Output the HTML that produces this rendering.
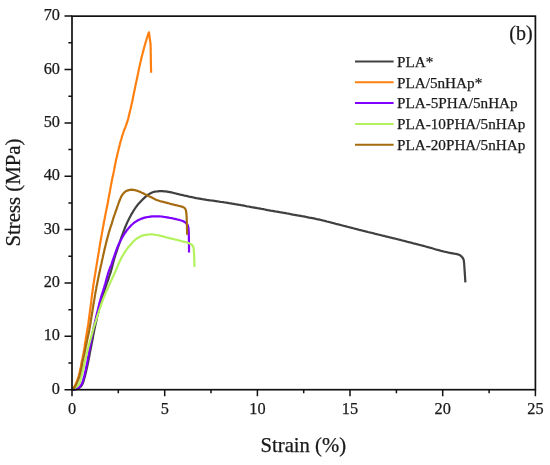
<!DOCTYPE html>
<html lang="en"><head><meta charset="utf-8"><title>Stress-strain curves</title>
<style>html,body{margin:0;padding:0;background:#fff}body{width:550px;height:465px;overflow:hidden}svg{display:block}text{font-family:"Liberation Serif", serif;fill:#1a1a1a;stroke:#1a1a1a;stroke-width:0.25px}</style></head><body>
<svg width="550" height="465" viewBox="0 0 550 465">
<rect width="550" height="465" fill="#fff"/>
<path d="M72.0,389.7 L73.5,389.6 L75.0,389.5 L76.5,389.2 L77.9,388.6 L79.2,387.9 L80.4,386.9 L81.4,385.8 L82.2,384.5 L82.8,383.1 L83.4,381.7 L83.8,380.3 L84.2,378.8 L84.6,377.4 L85.0,375.9 L85.4,374.5 L85.7,373.0 L86.1,371.5 L86.4,370.0 L86.7,368.6 L87.1,367.1 L87.4,365.6 L87.7,364.2 L88.0,362.7 L88.3,361.2 L88.6,359.7 L88.9,358.2 L89.2,356.8 L89.5,355.3 L89.7,353.8 L90.0,352.3 L90.3,350.8 L90.6,349.4 L90.9,347.9 L91.2,346.4 L91.5,344.9 L91.7,343.4 L92.0,342.0 L92.3,340.5 L92.6,339.0 L92.9,337.5 L93.1,336.0 L93.4,334.6 L93.7,333.1 L94.0,331.6 L94.3,330.1 L94.6,328.6 L94.9,327.2 L95.2,325.7 L95.5,324.2 L95.8,322.7 L96.2,321.3 L96.5,319.8 L96.8,318.3 L97.2,316.8 L97.5,315.4 L97.9,313.9 L98.2,312.5 L98.6,311.0 L98.9,309.5 L99.3,308.1 L99.7,306.6 L100.1,305.1 L100.5,303.7 L100.9,302.2 L101.3,300.8 L101.7,299.3 L102.1,297.9 L102.6,296.4 L103.0,295.0 L103.5,293.6 L103.9,292.1 L104.4,290.7 L104.9,289.3 L105.4,287.8 L105.8,286.4 L106.3,285.0 L106.8,283.5 L107.3,282.1 L107.8,280.7 L108.3,279.3 L108.8,277.8 L109.2,276.4 L109.7,275.0 L110.2,273.6 L110.7,272.1 L111.1,270.7 L111.5,269.2 L111.9,267.8 L112.3,266.3 L112.6,264.9 L113.0,263.4 L113.4,261.9 L113.8,260.5 L114.2,259.0 L114.6,257.6 L115.1,256.1 L115.5,254.7 L116.0,253.3 L116.5,251.8 L117.0,250.4 L117.4,249.0 L117.9,247.6 L118.4,246.1 L118.9,244.7 L119.4,243.3 L119.9,241.9 L120.4,240.4 L120.8,239.0 L121.3,237.6 L121.8,236.1 L122.4,234.7 L122.9,233.3 L123.4,231.9 L124.0,230.5 L124.5,229.1 L125.0,227.7 L125.6,226.3 L126.2,224.9 L126.8,223.5 L127.4,222.1 L128.1,220.8 L128.7,219.4 L129.4,218.1 L130.1,216.7 L130.8,215.4 L131.5,214.1 L132.3,212.8 L133.1,211.5 L133.9,210.2 L134.7,209.0 L135.6,207.7 L136.4,206.5 L137.3,205.3 L138.3,204.1 L139.3,203.0 L140.3,201.9 L141.4,200.8 L142.4,199.7 L143.5,198.6 L144.6,197.6 L145.7,196.6 L146.9,195.6 L148.1,194.7 L149.4,193.9 L150.7,193.2 L152.1,192.5 L153.5,192.0 L154.9,191.7 L156.4,191.5 L157.9,191.3 L159.4,191.1 L160.9,191.1 L162.5,191.2 L164.0,191.3 L165.5,191.4 L167.0,191.6 L168.4,191.8 L169.9,192.1 L171.4,192.4 L172.9,192.8 L174.3,193.2 L175.8,193.5 L177.3,193.9 L178.7,194.2 L180.2,194.6 L181.7,194.9 L183.1,195.2 L184.6,195.6 L186.1,195.9 L187.6,196.2 L189.0,196.6 L190.5,196.9 L192.0,197.2 L193.5,197.5 L194.9,197.8 L196.4,198.1 L197.9,198.3 L199.4,198.6 L200.9,198.9 L202.3,199.2 L203.8,199.4 L205.3,199.6 L206.8,199.9 L208.3,200.1 L209.8,200.3 L211.3,200.5 L212.8,200.7 L214.3,200.9 L215.8,201.1 L217.3,201.3 L218.8,201.5 L220.2,201.8 L221.7,202.0 L223.2,202.2 L224.7,202.5 L226.2,202.7 L227.7,202.9 L229.2,203.2 L230.7,203.4 L232.2,203.7 L233.6,203.9 L235.1,204.2 L236.6,204.4 L238.1,204.7 L239.6,204.9 L241.1,205.2 L242.6,205.4 L244.0,205.7 L245.5,206.0 L247.0,206.3 L248.5,206.5 L250.0,206.8 L251.5,207.1 L252.9,207.3 L254.4,207.6 L255.9,207.9 L257.4,208.2 L258.9,208.4 L260.4,208.7 L261.8,209.0 L263.3,209.2 L264.8,209.5 L266.3,209.8 L267.8,210.1 L269.3,210.3 L270.7,210.6 L272.2,210.8 L273.7,211.1 L275.2,211.4 L276.7,211.6 L278.2,211.9 L279.7,212.2 L281.1,212.4 L282.6,212.7 L284.1,212.9 L285.6,213.2 L287.1,213.5 L288.6,213.7 L290.0,214.0 L291.5,214.3 L293.0,214.6 L294.5,214.8 L296.0,215.1 L297.5,215.4 L298.9,215.6 L300.4,215.9 L301.9,216.2 L303.4,216.4 L304.9,216.7 L306.4,217.0 L307.8,217.3 L309.3,217.6 L310.8,217.8 L312.3,218.1 L313.8,218.4 L315.2,218.7 L316.7,219.1 L318.2,219.4 L319.7,219.7 L321.1,220.0 L322.6,220.4 L324.1,220.7 L325.5,221.1 L327.0,221.5 L328.4,221.8 L329.9,222.2 L331.4,222.6 L332.8,223.0 L334.3,223.4 L335.7,223.8 L337.2,224.1 L338.7,224.5 L340.1,224.9 L341.6,225.3 L343.0,225.7 L344.5,226.0 L346.0,226.4 L347.4,226.8 L348.9,227.2 L350.3,227.5 L351.8,227.9 L353.3,228.3 L354.7,228.7 L356.2,229.0 L357.6,229.4 L359.1,229.8 L360.6,230.1 L362.0,230.5 L363.5,230.9 L365.0,231.2 L366.4,231.6 L367.9,232.0 L369.3,232.3 L370.8,232.7 L372.3,233.0 L373.7,233.4 L375.2,233.8 L376.7,234.1 L378.1,234.5 L379.6,234.8 L381.1,235.2 L382.5,235.6 L384.0,235.9 L385.4,236.3 L386.9,236.6 L388.4,237.0 L389.8,237.4 L391.3,237.7 L392.8,238.1 L394.2,238.4 L395.7,238.8 L397.2,239.2 L398.6,239.5 L400.1,239.9 L401.5,240.3 L403.0,240.7 L404.5,241.0 L405.9,241.4 L407.4,241.8 L408.8,242.1 L410.3,242.5 L411.8,242.9 L413.2,243.3 L414.7,243.6 L416.2,244.0 L417.6,244.4 L419.1,244.8 L420.5,245.2 L422.0,245.5 L423.4,245.9 L424.9,246.3 L426.4,246.7 L427.8,247.1 L429.3,247.5 L430.7,247.9 L432.2,248.3 L433.6,248.7 L435.1,249.2 L436.5,249.6 L438.0,250.0 L439.4,250.4 L440.9,250.8 L442.3,251.1 L443.8,251.5 L445.3,251.8 L446.7,252.2 L448.2,252.5 L449.7,252.8 L451.2,253.1 L452.7,253.4 L454.2,253.7 L455.7,253.9 L457.2,254.2 L458.6,254.6 L459.9,255.2 L461.1,256.1 L462.2,257.2 L463.1,258.5 L463.7,259.9 L463.9,261.3 L464.1,262.8 L464.2,264.3 L464.3,265.8 L464.4,267.4 L464.5,268.9 L464.6,270.4 L464.7,271.9 L464.8,273.4 L464.9,274.9 L465.0,276.4 L465.1,277.9 L465.2,279.4 L465.3,280.9 L465.4,282.4" fill="none" stroke="#404040" stroke-width="2.2" stroke-linejoin="round" stroke-linecap="butt"/>
<path d="M72.0,389.7 L73.0,388.6 L73.9,387.4 L74.7,386.1 L75.4,384.7 L76.0,383.4 L76.6,382.0 L77.2,380.6 L77.7,379.2 L78.2,377.7 L78.6,376.3 L79.0,374.8 L79.4,373.4 L79.7,371.9 L80.0,370.4 L80.4,368.9 L80.7,367.5 L81.0,366.0 L81.2,364.5 L81.5,363.0 L81.8,361.5 L82.1,360.1 L82.4,358.6 L82.7,357.1 L83.0,355.6 L83.3,354.1 L83.6,352.7 L83.8,351.2 L84.1,349.7 L84.3,348.2 L84.6,346.7 L84.8,345.2 L85.0,343.7 L85.2,342.2 L85.5,340.7 L85.7,339.3 L86.0,337.8 L86.2,336.3 L86.5,334.8 L86.8,333.3 L87.0,331.8 L87.2,330.3 L87.5,328.8 L87.7,327.4 L87.9,325.9 L88.2,324.4 L88.4,322.9 L88.6,321.4 L88.8,319.9 L89.0,318.4 L89.2,316.9 L89.4,315.4 L89.6,313.9 L89.8,312.4 L90.0,310.9 L90.2,309.4 L90.4,307.9 L90.6,306.4 L90.8,304.9 L91.0,303.4 L91.2,301.9 L91.3,300.4 L91.5,298.9 L91.7,297.4 L91.9,295.9 L92.1,294.4 L92.3,293.0 L92.5,291.5 L92.7,290.0 L92.9,288.5 L93.1,287.0 L93.3,285.5 L93.5,284.0 L93.8,282.5 L94.0,281.0 L94.2,279.5 L94.5,278.0 L94.7,276.5 L95.0,275.0 L95.2,273.6 L95.5,272.1 L95.7,270.6 L95.9,269.1 L96.2,267.6 L96.4,266.1 L96.7,264.6 L96.9,263.1 L97.2,261.6 L97.4,260.1 L97.6,258.7 L97.9,257.2 L98.1,255.7 L98.4,254.2 L98.6,252.7 L98.9,251.2 L99.1,249.7 L99.4,248.2 L99.6,246.8 L99.9,245.3 L100.1,243.8 L100.4,242.3 L100.6,240.8 L100.9,239.3 L101.1,237.8 L101.4,236.3 L101.7,234.9 L101.9,233.4 L102.2,231.9 L102.5,230.4 L102.7,228.9 L103.0,227.4 L103.3,225.9 L103.5,224.5 L103.8,223.0 L104.1,221.5 L104.4,220.0 L104.7,218.5 L104.9,217.1 L105.2,215.6 L105.5,214.1 L105.8,212.6 L106.1,211.1 L106.4,209.6 L106.7,208.2 L107.0,206.7 L107.3,205.2 L107.6,203.7 L107.9,202.2 L108.2,200.8 L108.4,199.3 L108.7,197.8 L109.0,196.3 L109.3,194.8 L109.5,193.3 L109.8,191.9 L110.1,190.4 L110.3,188.9 L110.6,187.4 L110.9,185.9 L111.1,184.4 L111.4,183.0 L111.7,181.5 L112.0,180.0 L112.3,178.5 L112.6,177.0 L113.0,175.6 L113.3,174.1 L113.6,172.6 L113.9,171.1 L114.2,169.7 L114.4,168.2 L114.7,166.7 L115.0,165.2 L115.3,163.7 L115.6,162.3 L115.9,160.8 L116.2,159.3 L116.6,157.8 L116.9,156.4 L117.3,154.9 L117.6,153.4 L118.0,152.0 L118.3,150.5 L118.7,149.0 L119.0,147.6 L119.4,146.1 L119.8,144.6 L120.1,143.2 L120.5,141.7 L120.9,140.3 L121.4,138.8 L121.8,137.4 L122.2,135.9 L122.7,134.5 L123.2,133.0 L123.6,131.6 L124.1,130.2 L124.7,128.8 L125.3,127.4 L125.8,126.0 L126.3,124.6 L126.8,123.1 L127.3,121.7 L127.7,120.3 L128.2,118.8 L128.5,117.4 L128.9,115.9 L129.2,114.4 L129.6,112.9 L129.9,111.5 L130.3,110.0 L130.6,108.5 L131.0,107.1 L131.3,105.6 L131.6,104.1 L132.0,102.7 L132.3,101.2 L132.6,99.7 L132.9,98.2 L133.2,96.8 L133.5,95.3 L133.8,93.8 L134.1,92.3 L134.4,90.8 L134.7,89.4 L135.0,87.9 L135.3,86.4 L135.6,84.9 L135.9,83.5 L136.2,82.0 L136.6,80.5 L136.9,79.0 L137.2,77.5 L137.5,76.1 L137.8,74.6 L138.1,73.1 L138.4,71.6 L138.7,70.2 L139.0,68.7 L139.3,67.2 L139.7,65.7 L140.0,64.3 L140.3,62.8 L140.7,61.3 L141.0,59.9 L141.4,58.4 L141.7,56.9 L142.1,55.5 L142.5,54.0 L142.8,52.5 L143.2,51.1 L143.6,49.6 L144.0,48.2 L144.4,46.7 L144.8,45.2 L145.2,43.8 L145.6,42.3 L146.1,40.9 L146.5,39.5 L147.0,38.0 L147.4,36.6 L147.9,35.2 L148.4,33.7 L148.9,32.3  L149.2,33.8 L149.4,35.4 L149.6,36.9 L149.8,38.5 L150.0,40.0 L150.2,41.6 L150.4,43.1 L150.6,44.7 L150.6,46.2 L150.7,47.8 L150.7,49.4 L150.7,50.9 L150.7,52.5 L150.8,54.1 L150.8,55.6 L150.8,57.2 L150.8,58.7 L150.9,60.3 L150.9,61.9 L150.9,63.4 L150.9,65.0 L151.0,66.6 L151.0,68.1 L151.0,69.7 L151.1,71.2 L151.1,72.8" fill="none" stroke="#ff8010" stroke-width="2.2" stroke-linejoin="round" stroke-linecap="butt"/>
<path d="M72.0,389.7 L73.5,389.6 L75.0,389.4 L76.5,388.9 L77.8,388.3 L79.1,387.4 L80.2,386.4 L81.1,385.2 L81.8,383.8 L82.4,382.5 L82.9,381.0 L83.3,379.6 L83.7,378.1 L84.1,376.6 L84.5,375.2 L84.8,373.7 L85.1,372.2 L85.5,370.7 L85.8,369.3 L86.1,367.8 L86.4,366.3 L86.7,364.8 L87.0,363.3 L87.3,361.9 L87.5,360.4 L87.8,358.9 L88.1,357.4 L88.4,355.9 L88.7,354.4 L88.9,352.9 L89.2,351.4 L89.5,350.0 L89.8,348.5 L90.0,347.0 L90.3,345.5 L90.6,344.0 L90.8,342.5 L91.1,341.0 L91.4,339.5 L91.6,338.1 L91.9,336.6 L92.2,335.1 L92.4,333.6 L92.7,332.1 L93.0,330.6 L93.3,329.1 L93.6,327.6 L93.9,326.2 L94.3,324.7 L94.6,323.2 L95.0,321.8 L95.3,320.3 L95.7,318.8 L96.0,317.3 L96.4,315.9 L96.7,314.4 L97.1,312.9 L97.4,311.5 L97.8,310.0 L98.1,308.5 L98.5,307.0 L98.9,305.6 L99.2,304.1 L99.6,302.6 L100.0,301.2 L100.4,299.7 L100.8,298.3 L101.2,296.8 L101.6,295.4 L102.1,293.9 L102.5,292.5 L103.0,291.0 L103.4,289.6 L103.9,288.1 L104.3,286.7 L104.7,285.2 L105.2,283.8 L105.6,282.3 L106.0,280.9 L106.4,279.4 L106.8,277.9 L107.2,276.5 L107.6,275.0 L108.0,273.6 L108.5,272.1 L109.0,270.7 L109.5,269.3 L110.0,267.9 L110.6,266.5 L111.2,265.1 L111.7,263.7 L112.2,262.2 L112.6,260.8 L113.1,259.4 L113.6,257.9 L114.1,256.5 L114.6,255.1 L115.1,253.6 L115.6,252.2 L116.1,250.8 L116.6,249.4 L117.2,248.0 L117.7,246.6 L118.3,245.2 L119.0,243.8 L119.6,242.4 L120.3,241.1 L121.0,239.7 L121.7,238.4 L122.5,237.1 L123.2,235.8 L124.0,234.5 L124.8,233.2 L125.7,232.0 L126.6,230.7 L127.5,229.5 L128.4,228.4 L129.4,227.2 L130.5,226.1 L131.5,225.0 L132.7,224.0 L133.8,223.0 L135.0,222.2 L136.3,221.3 L137.6,220.5 L139.0,219.8 L140.3,219.2 L141.7,218.6 L143.1,218.1 L144.6,217.6 L146.1,217.3 L147.6,217.0 L149.0,216.8 L150.5,216.6 L152.1,216.4 L153.6,216.3 L155.1,216.3 L156.6,216.3 L158.1,216.3 L159.6,216.4 L161.1,216.5 L162.6,216.7 L164.1,217.0 L165.6,217.2 L167.1,217.4 L168.6,217.7 L170.1,218.0 L171.6,218.2 L173.1,218.5 L174.6,218.8 L176.0,219.1 L177.5,219.5 L179.0,219.8 L180.5,220.3 L181.9,220.7 L183.3,221.3 L184.6,222.0 L185.9,222.9 L186.9,223.9 L187.7,225.2 L188.2,226.7 L188.5,228.2 L188.6,229.7 L188.7,231.2 L188.8,232.7 L188.8,234.3 L188.8,235.8 L188.9,237.3 L188.9,238.8 L188.9,240.3 L188.9,241.8 L188.9,243.3 L189.0,244.8 L189.0,246.3 L189.0,247.9 L189.0,249.4 L189.0,250.9 L189.0,252.4" fill="none" stroke="#7f00ff" stroke-width="2.2" stroke-linejoin="round" stroke-linecap="butt"/>
<path d="M72.0,389.7 L73.4,389.0 L74.6,388.2 L75.9,387.3 L77.0,386.4 L78.1,385.2 L79.0,384.0 L79.7,382.7 L80.2,381.3 L80.6,379.8 L80.9,378.3 L81.3,376.8 L81.7,375.4 L82.1,373.9 L82.4,372.4 L82.8,370.9 L83.1,369.5 L83.5,368.0 L83.8,366.5 L84.1,365.0 L84.5,363.5 L84.8,362.1 L85.1,360.6 L85.4,359.1 L85.8,357.6 L86.1,356.1 L86.5,354.7 L86.8,353.2 L87.2,351.7 L87.5,350.2 L87.9,348.8 L88.3,347.3 L88.7,345.8 L89.1,344.4 L89.5,342.9 L89.9,341.4 L90.3,340.0 L90.7,338.5 L91.1,337.0 L91.5,335.6 L91.9,334.1 L92.3,332.6 L92.7,331.2 L93.1,329.7 L93.5,328.3 L93.9,326.8 L94.4,325.4 L94.8,323.9 L95.3,322.5 L95.8,321.0 L96.2,319.6 L96.7,318.1 L97.2,316.7 L97.6,315.2 L98.1,313.8 L98.6,312.4 L99.0,310.9 L99.5,309.5 L100.0,308.0 L100.5,306.6 L100.9,305.1 L101.4,303.7 L102.0,302.3 L102.5,300.9 L103.0,299.4 L103.6,298.0 L104.1,296.6 L104.7,295.2 L105.3,293.8 L105.9,292.4 L106.5,291.0 L107.1,289.7 L107.8,288.3 L108.4,286.9 L109.0,285.5 L109.6,284.1 L110.2,282.7 L110.8,281.3 L111.5,280.0 L112.1,278.6 L112.7,277.2 L113.4,275.8 L114.0,274.4 L114.6,273.1 L115.3,271.7 L115.9,270.3 L116.5,268.9 L117.1,267.5 L117.6,266.1 L118.2,264.7 L118.8,263.3 L119.4,261.9 L120.1,260.5 L120.7,259.2 L121.4,257.8 L122.2,256.5 L123.0,255.2 L123.7,253.9 L124.5,252.6 L125.3,251.3 L126.2,250.1 L127.1,248.8 L128.0,247.6 L129.0,246.5 L130.0,245.3 L131.0,244.2 L132.0,243.0 L133.0,241.9 L134.1,240.8 L135.2,239.8 L136.4,238.9 L137.7,238.0 L139.0,237.2 L140.3,236.5 L141.7,235.9 L143.1,235.4 L144.6,235.0 L146.1,234.8 L147.6,234.6 L149.1,234.5 L150.7,234.4 L152.2,234.4 L153.7,234.5 L155.2,234.8 L156.7,235.0 L158.2,235.2 L159.7,235.6 L161.1,235.9 L162.6,236.3 L164.1,236.7 L165.6,237.1 L167.0,237.5 L168.5,237.8 L170.0,238.2 L171.4,238.6 L172.9,238.9 L174.4,239.3 L175.9,239.7 L177.3,240.0 L178.8,240.4 L180.3,240.8 L181.7,241.2 L183.2,241.6 L184.7,241.9 L186.2,242.3 L187.6,242.8 L189.0,243.3 L190.5,243.9 L191.8,244.7 L192.7,245.8 L193.4,247.2 L193.7,248.7 L193.8,250.2 L193.9,251.7 L194.0,253.2 L194.1,254.8 L194.1,256.3 L194.2,257.8 L194.3,259.3 L194.3,260.8 L194.3,262.3 L194.4,263.9 L194.4,265.4 L194.4,266.9" fill="none" stroke="#b3f25c" stroke-width="2.2" stroke-linejoin="round" stroke-linecap="butt"/>
<path d="M72.0,389.7 L73.2,388.7 L74.2,387.6 L75.0,386.3 L75.8,385.0 L76.4,383.7 L77.1,382.3 L77.7,380.9 L78.3,379.5 L78.8,378.1 L79.3,376.6 L79.7,375.2 L80.0,373.7 L80.4,372.2 L80.7,370.8 L81.0,369.3 L81.4,367.8 L81.7,366.3 L82.0,364.8 L82.2,363.3 L82.5,361.9 L82.8,360.4 L83.2,358.9 L83.5,357.4 L83.8,355.9 L84.2,354.5 L84.5,353.0 L84.8,351.5 L85.1,350.0 L85.4,348.5 L85.7,347.1 L86.0,345.6 L86.4,344.1 L86.7,342.6 L87.0,341.1 L87.3,339.6 L87.6,338.2 L87.9,336.7 L88.2,335.2 L88.6,333.7 L88.9,332.2 L89.2,330.7 L89.4,329.3 L89.7,327.8 L90.0,326.3 L90.2,324.8 L90.5,323.3 L90.7,321.8 L90.9,320.3 L91.2,318.8 L91.4,317.3 L91.7,315.8 L91.9,314.3 L92.2,312.8 L92.4,311.3 L92.6,309.8 L92.9,308.3 L93.1,306.8 L93.3,305.3 L93.6,303.8 L93.8,302.3 L94.1,300.9 L94.3,299.4 L94.6,297.9 L94.8,296.4 L95.1,294.9 L95.3,293.4 L95.6,291.9 L95.9,290.4 L96.2,288.9 L96.4,287.4 L96.7,285.9 L97.0,284.5 L97.3,283.0 L97.6,281.5 L97.9,280.0 L98.2,278.5 L98.5,277.0 L98.8,275.6 L99.1,274.1 L99.4,272.6 L99.8,271.1 L100.1,269.6 L100.4,268.1 L100.7,266.7 L101.0,265.2 L101.4,263.7 L101.7,262.2 L102.0,260.7 L102.3,259.3 L102.7,257.8 L103.0,256.3 L103.3,254.8 L103.7,253.4 L104.0,251.9 L104.3,250.4 L104.7,248.9 L105.0,247.4 L105.4,246.0 L105.7,244.5 L106.1,243.0 L106.5,241.6 L106.8,240.1 L107.2,238.6 L107.6,237.2 L108.0,235.7 L108.4,234.2 L108.8,232.8 L109.2,231.3 L109.7,229.9 L110.1,228.4 L110.6,227.0 L111.1,225.6 L111.6,224.1 L112.0,222.7 L112.4,221.2 L112.9,219.8 L113.3,218.3 L113.8,216.9 L114.3,215.5 L114.8,214.0 L115.3,212.6 L115.8,211.2 L116.3,209.8 L116.8,208.3 L117.3,206.9 L117.8,205.5 L118.3,204.0 L118.8,202.6 L119.3,201.2 L119.9,199.8 L120.5,198.4 L121.1,197.0 L121.8,195.6 L122.6,194.4 L123.6,193.2 L124.7,192.1 L125.9,191.2 L127.3,190.6 L128.7,190.1 L130.2,189.8 L131.7,189.7 L133.2,189.8 L134.7,190.1 L136.2,190.5 L137.6,190.9 L139.1,191.5 L140.5,192.1 L141.8,192.7 L143.2,193.3 L144.5,194.0 L145.9,194.7 L147.3,195.4 L148.6,196.1 L150.0,196.7 L151.4,197.3 L152.7,198.0 L154.1,198.7 L155.5,199.4 L156.8,200.0 L158.2,200.5 L159.7,201.0 L161.1,201.4 L162.6,201.7 L164.1,202.1 L165.5,202.5 L167.0,202.9 L168.5,203.3 L169.9,203.7 L171.4,204.1 L172.9,204.4 L174.3,204.8 L175.8,205.1 L177.3,205.5 L178.8,205.9 L180.3,206.2 L181.8,206.6 L183.1,207.1 L184.5,207.9 L185.4,209.1 L185.9,210.4 L186.2,212.0 L186.4,213.5 L186.5,215.0 L186.6,216.5 L186.7,218.0 L186.7,219.5 L186.8,221.1 L186.8,222.6 L186.9,224.1 L186.9,225.6 L187.0,227.1 L187.0,228.6 L187.0,230.2 L187.1,231.7 L187.1,233.2 L187.1,234.7" fill="none" stroke="#a66b0f" stroke-width="2.2" stroke-linejoin="round" stroke-linecap="butt"/>
<rect x="72.0" y="16.15" width="463.40" height="373.55" fill="none" stroke="#111" stroke-width="1.7"/>
<path d="M72.0,389.7 v6.6 M164.7,389.7 v6.6 M257.4,389.7 v6.6 M350.0,389.7 v6.6 M442.7,389.7 v6.6 M535.4,389.7 v6.6 M118.3,389.7 v3.6 M211.0,389.7 v3.6 M303.7,389.7 v3.6 M396.4,389.7 v3.6 M489.1,389.7 v3.6 M72.0,389.7 h-7.5 M72.0,336.3 h-7.5 M72.0,283.0 h-7.5 M72.0,229.6 h-7.5 M72.0,176.2 h-7.5 M72.0,122.9 h-7.5 M72.0,69.5 h-7.5 M72.0,16.1 h-7.5 M72.0,363.0 h-3.6 M72.0,309.7 h-3.6 M72.0,256.3 h-3.6 M72.0,202.9 h-3.6 M72.0,149.6 h-3.6 M72.0,96.2 h-3.6 M72.0,42.8 h-3.6" stroke="#111" stroke-width="1.5" fill="none"/>
<text x="72.0" y="413.6" font-size="16.3" text-anchor="middle">0</text>
<text x="164.7" y="413.6" font-size="16.3" text-anchor="middle">5</text>
<text x="257.4" y="413.6" font-size="16.3" text-anchor="middle">10</text>
<text x="350.0" y="413.6" font-size="16.3" text-anchor="middle">15</text>
<text x="442.7" y="413.6" font-size="16.3" text-anchor="middle">20</text>
<text x="535.4" y="413.6" font-size="16.3" text-anchor="middle">25</text>
<text x="60.0" y="393.8" font-size="16.3" text-anchor="end">0</text>
<text x="60.0" y="340.4" font-size="16.3" text-anchor="end">10</text>
<text x="60.0" y="287.1" font-size="16.3" text-anchor="end">20</text>
<text x="60.0" y="233.7" font-size="16.3" text-anchor="end">30</text>
<text x="60.0" y="180.3" font-size="16.3" text-anchor="end">40</text>
<text x="60.0" y="127.0" font-size="16.3" text-anchor="end">50</text>
<text x="60.0" y="73.6" font-size="16.3" text-anchor="end">60</text>
<text x="60.0" y="20.2" font-size="16.3" text-anchor="end">70</text>
<text x="303.3" y="452.4" font-size="20.7" text-anchor="middle">Strain (%)</text>
<text transform="translate(20.2,192.6) rotate(-90)" font-size="20.8" text-anchor="middle">Stress (MPa)</text>
<text x="521" y="40" font-size="20" text-anchor="middle">(b)</text>
<path d="M355,61.4 H393.6" stroke="#404040" stroke-width="2.0" fill="none"/>
<text x="397" y="66.7" font-size="15.2">PLA*</text>
<path d="M355,82.2 H393.6" stroke="#ff8010" stroke-width="2.0" fill="none"/>
<text x="397" y="87.5" font-size="15.2">PLA/5nHAp*</text>
<path d="M355,103.1 H393.6" stroke="#7f00ff" stroke-width="2.0" fill="none"/>
<text x="397" y="108.4" font-size="15.2">PLA-5PHA/5nHAp</text>
<path d="M355,124.0 H393.6" stroke="#b3f25c" stroke-width="2.0" fill="none"/>
<text x="397" y="129.2" font-size="15.2">PLA-10PHA/5nHAp</text>
<path d="M355,144.8 H393.6" stroke="#a66b0f" stroke-width="2.0" fill="none"/>
<text x="397" y="150.1" font-size="15.2">PLA-20PHA/5nHAp</text>
</svg></body></html>
